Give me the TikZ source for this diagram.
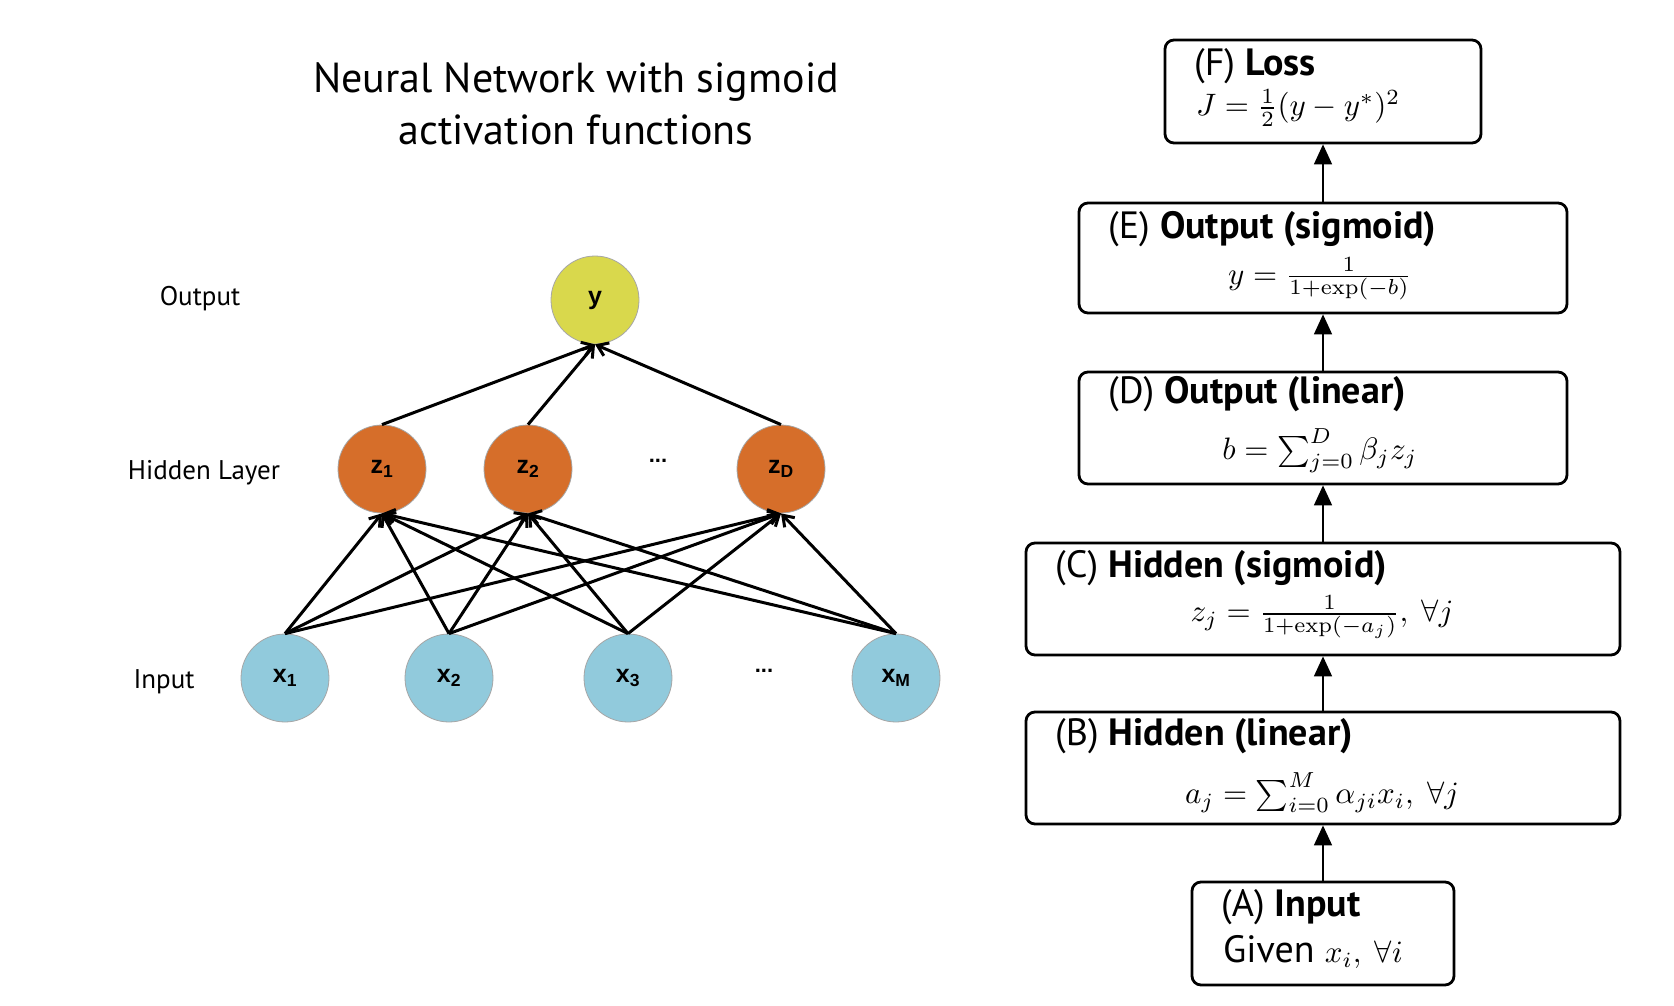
\documentclass[tikz,border=0pt]{standalone}
\usepackage{amsmath}
\usepackage{graphicx}
\usepackage[no-math]{fontspec}
\setmainfont{PT Sans}
\newfontfamily\nodefont{Liberation Sans}
\usetikzlibrary{arrows.meta}
\newcommand{\mymath}[1]{\scalebox{3.1}{\normalsize$#1$}}
\begin{document}
\begin{tikzpicture}[x=1pt,y=-1pt,
  neuron/.style={circle,draw=gray!70,line width=0.8pt,minimum size=88pt,inner sep=0pt,font=\nodefont\bfseries\fontsize{25}{27}\selectfont},
  lbl/.style={font=\fontsize{27}{30}\selectfont},
  edge/.style={-{Straight Barb[length=10pt,width=14pt]},line width=3pt},
  box/.style={draw,line width=2.8pt,rounded corners=9pt,inner sep=0pt},
  btitle/.style={anchor=west,inner sep=0pt,font=\fontsize{38}{40}\selectfont},
  bmath/.style={inner sep=0pt},
  flow/.style={-{Triangle[length=20pt,width=18pt]},line width=1.6pt}]
\useasboundingbox (0,0) rectangle (1674,1006);
\fill[white] (0,0) rectangle (1674,1006);
% title
\node[font=\fontsize{42}{52}\selectfont,align=center] (title) at (576,104) {Neural Network with sigmoid\\activation functions};
\node[lbl] (lo) at (200,299) {Output};
\node[lbl] (lh) at (204,473) {Hidden Layer};
\node[lbl] (li) at (164,682) {Input};
% neurons
\node[neuron,fill={rgb,255:red,217;green,216;blue,76}] (y) at (595,300) {y};
\node[neuron,fill={rgb,255:red,214;green,110;blue,42}] (z1) at (382,469) {z\textsubscript{1}};
\node[neuron,fill={rgb,255:red,214;green,110;blue,42}] (z2) at (528,469) {z\textsubscript{2}};
\node[neuron,fill={rgb,255:red,214;green,110;blue,42}] (zD) at (781,469) {z\textsubscript{D}};
\node[font=\nodefont\bfseries\fontsize{22}{24}\selectfont] (hd) at (658,461) {...};
\node[neuron,fill={rgb,255:red,145;green,202;blue,220}] (x1) at (285,678) {x\textsubscript{1}};
\node[neuron,fill={rgb,255:red,145;green,202;blue,220}] (x2) at (449,678) {x\textsubscript{2}};
\node[neuron,fill={rgb,255:red,145;green,202;blue,220}] (x3) at (628,678) {x\textsubscript{3}};
\node[neuron,fill={rgb,255:red,145;green,202;blue,220}] (xM) at (896,678) {x\textsubscript{M}};
\node[font=\nodefont\bfseries\fontsize{22}{24}\selectfont] (id) at (764,671) {...};
\foreach \z in {z1,z2,zD}{\draw[edge] (\z.north) -- (y.south);}
\foreach \x in {x1,x2,x3,xM}{\foreach \z in {z1,z2,zD}{\draw[edge] (\x.north) -- (\z.south);}}
% boxes
\node[box,minimum width=316pt,minimum height=103pt] (F) at (1323,91.5) {};
\node[box,minimum width=488pt,minimum height=110pt] (E) at (1323,258) {};
\node[box,minimum width=488pt,minimum height=112pt] (D) at (1323,428) {};
\node[box,minimum width=594pt,minimum height=112pt] (C) at (1323,599) {};
\node[box,minimum width=594pt,minimum height=112pt] (B) at (1323,768) {};
\node[box,minimum width=262pt,minimum height=103pt] (A) at (1323,933.5) {};
\node[btitle] (Ft) at (1194,66) {(F) \textbf{Loss}};
\node[bmath,anchor=west] (Fm) at (1196,108) {\mymath{J=\frac{1}{2}(y-y^{*})^2}};
\node[btitle] (Et) at (1108,229) {(E) \textbf{Output (sigmoid)}};
\node[bmath] (Em) at (1320,279) {\mymath{y=\frac{1}{1+\exp(-b)}}};
\node[btitle] (Dt) at (1108,394) {(D) \textbf{Output (linear)}};
\node[bmath] (Dm) at (1320,451) {\mymath{b=\sum_{j=0}^{D}\beta_j z_j}};
\node[btitle] (Ct) at (1055,568) {(C) \textbf{Hidden (sigmoid)}};
\node[bmath] (Cm) at (1322,617) {\mymath{z_j=\frac{1}{1+\exp(-a_j)},\ \forall j}};
\node[btitle] (Bt) at (1055,736) {(B) \textbf{Hidden (linear)}};
\node[bmath] (Bm) at (1322,793) {\mymath{a_j=\sum_{i=0}^{M}\alpha_{ji}x_i,\ \forall j}};
\node[btitle] (At) at (1221,907) {(A) \textbf{Input}};
\node[btitle] (Am) at (1223,952) {Given \mymath{x_i,\ \forall i}};
\draw[flow] (A) -- (B);
\draw[flow] (B) -- (C);
\draw[flow] (C) -- (D);
\draw[flow] (D) -- (E);
\draw[flow] (E) -- (F);
\end{tikzpicture}
\end{document}
